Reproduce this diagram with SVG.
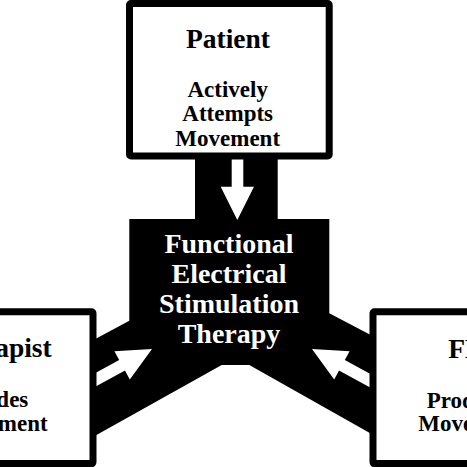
<svg xmlns="http://www.w3.org/2000/svg" width="467" height="467" viewBox="0 0 467 467">
<style>
.box{fill:#fff;stroke:#000;stroke-width:7;stroke-linejoin:round}
.t{font-family:"Liberation Serif","Times New Roman",serif;font-weight:bold;fill:#000}
.title{font-size:27.5px}
.sub{font-size:23px}
.ct{font-family:"Liberation Serif","Times New Roman",serif;font-weight:bold;font-size:28px;fill:#fff;text-anchor:middle}
.arrow{fill:#fff}
</style>
<rect width="467" height="467" fill="#fff"/>
<g id="connectors">
<polygon fill="#000" points="195,150 277.7,150 277.7,219 329.3,219 329.3,313.3 376,337.8 376,436.5 249.3,365 221.7,365 92,437.6 92,340.8 129.3,320.7 129.3,219 195,219"/>
<polygon class="arrow" points="231.7,150 243.3,150 243.3,186.7 254,186.7 237.3,220 220.7,186.7 231.7,186.7"/>
<polygon class="arrow" points="87.6,377.2 119.2,360 114.4,351.3 152,349 129.8,379.4 125,370.6 93.4,387.8"/>
<polygon class="arrow" points="376.4,377.2 344.8,360 349.6,351.3 312,349 334.2,379.4 339,370.6 370.6,387.8"/>
</g>
<g id="fes-therapy">
<text class="ct" x="229" y="252.5">Functional</text>
<text class="ct" x="229" y="283">Electrical</text>
<text class="ct" x="229" y="313.3">Stimulation</text>
<text class="ct" x="229" y="343">Therapy</text>
</g>
<g id="patient">
<rect class="box" x="129.5" y="3.5" width="199.7" height="152.4" rx="1.5"/>
<text class="t title" x="228" y="48.3" text-anchor="middle">Patient</text>
<text class="t sub" x="227.7" y="96.7" text-anchor="middle">Actively</text>
<text class="t sub" x="227.7" y="120.7" text-anchor="middle">Attempts</text>
<text class="t sub" x="227.7" y="145.7" text-anchor="middle">Movement</text>
</g>
<g id="therapist">
<rect class="box" x="-110" y="311.8" width="203" height="151.8" rx="1.5"/>
<text class="t title" x="51.7" y="356.7" text-anchor="end">Therapist</text>
<text class="t sub" x="28.3" y="407" text-anchor="end">Guides</text>
<text class="t sub" x="47.7" y="430.5" text-anchor="end">Movement</text>
</g>
<g id="fes">
<rect class="box" x="373" y="311.8" width="203" height="151.8" rx="1.5"/>
<text class="t title" x="448.3" y="358" text-anchor="start">FES</text>
<text class="t sub" x="426.7" y="408" text-anchor="start">Produces</text>
<text class="t sub" x="418.3" y="430.5" text-anchor="start">Movement</text>
</g>
</svg>
